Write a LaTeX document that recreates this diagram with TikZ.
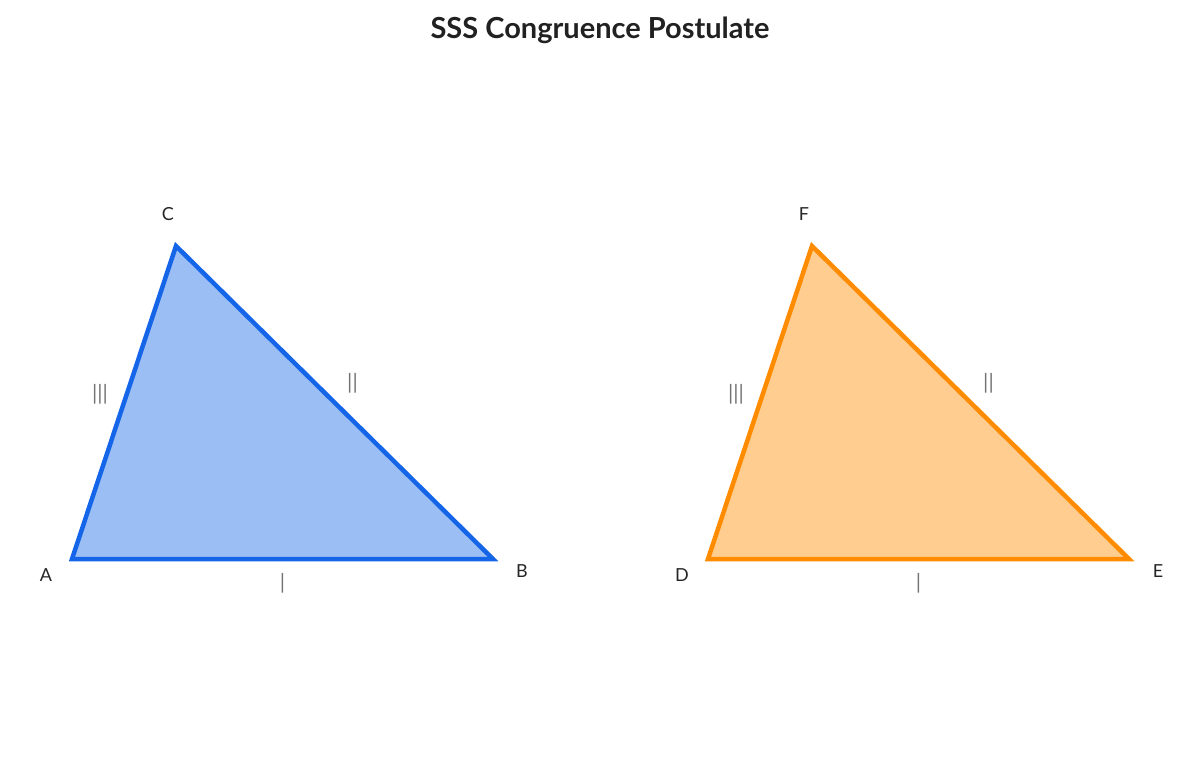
\documentclass[tikz,border=0pt]{standalone}
\usepackage{fontspec}
\setmainfont{Lato}
\usetikzlibrary{calc}
\definecolor{lineblue}{HTML}{1565E8}
\definecolor{fillblue}{HTML}{9BBEF5}
\definecolor{lineorange}{HTML}{FF8C00}
\definecolor{fillorange}{HTML}{FFCD8F}
\begin{document}
\begin{tikzpicture}[x=1pt, y=-1pt,
  side/.style={line width=4.5pt, line join=miter},
  vname/.style={font=\fontsize{18}{20}\selectfont, text=black!85},
  tickmark/.style={font=\fontsize{21}{23}\selectfont, text=black!55}]
  \useasboundingbox (0, 0) rectangle (1200, 763);
  \node[font=\bfseries\fontsize{29}{32}\selectfont, text=black!87] (title) at (600, 30) {SSS Congruence Postulate};
  \foreach \dx/\p/\q/\r/\col in {0/A/B/C/blue, 636/D/E/F/orange} {
    \coordinate (\p) at (72 + \dx, 559);
    \coordinate (\q) at (493 + \dx, 559);
    \coordinate (\r) at (176 + \dx, 246);
    \draw[side, draw=line\col, fill=fill\col] (\p) -- (\q) -- (\r) -- cycle;
    \node[vname] (\p label) at ($(\p) + (-26, 16)$) {\p};
    \node[vname] (\q label) at ($(\q) + (29, 12)$) {\q};
    \node[vname] (\r label) at ($(\r) + (-8, -32)$) {\r};
    \node[tickmark] (\p\q tick) at ($(\p)!0.5!(\q) + (0, 24)$) {|};
    \node[tickmark] (\q\r tick) at ($(\q)!0.5!(\r) + (18, -19)$) {||};
    \node[tickmark] (\p\r tick) at ($(\p)!0.5!(\r) + (-24, -8)$) {|||};
  }
\end{tikzpicture}
\end{document}
